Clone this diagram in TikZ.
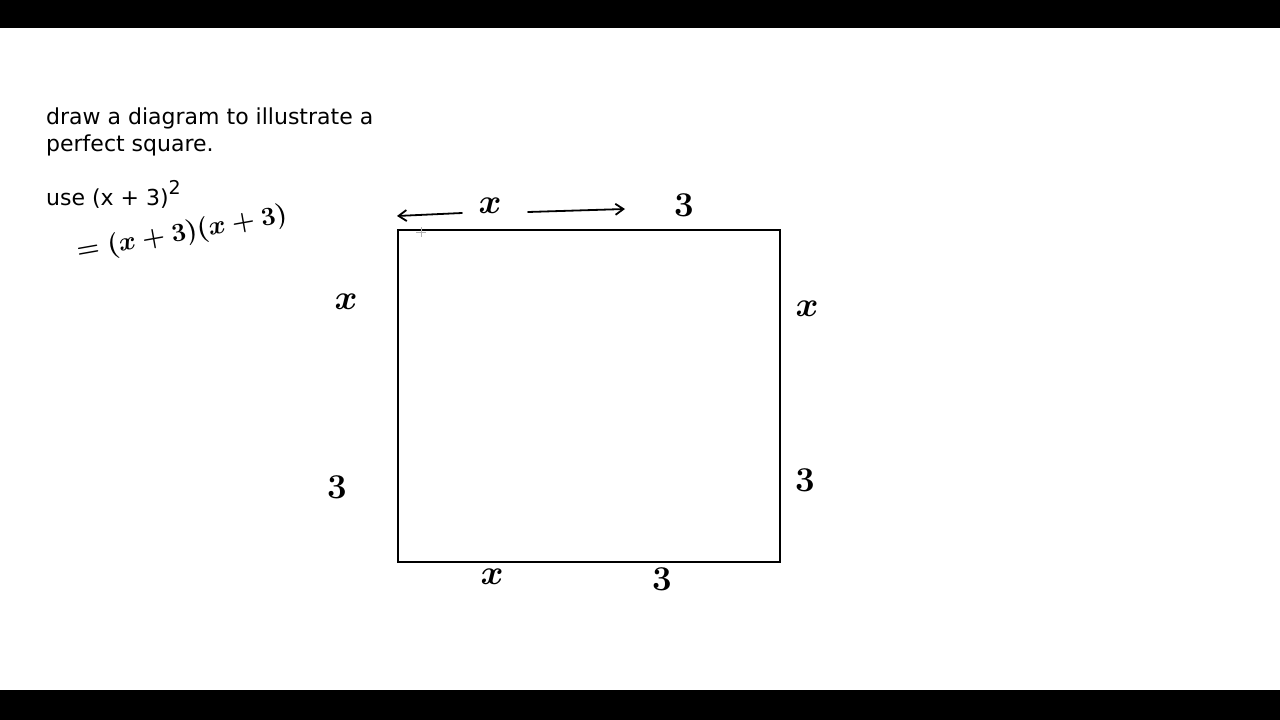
\documentclass[tikz,border=0pt]{standalone}
\usepackage{fontspec}
\setmainfont{DejaVu Sans}
\usetikzlibrary{arrows.meta,calc}
\tikzset{
  typed/.style={anchor=base west, inner sep=0pt, font=\fontsize{22}{26}\selectfont},
  hand/.style={inner sep=0pt, font=\fontsize{24.88}{28}\selectfont\boldmath, transform shape, scale=1.4},
  handline/.style={line width=1.8pt, line cap=round},
}
\begin{document}
\begin{tikzpicture}[x=1pt,y=-1pt]
\useasboundingbox (0,0) rectangle (1280,720);
\fill[white] (0,0) rectangle (1280,720);
\fill[black] (0,0) rectangle (1280,28);
\fill[black] (0,690) rectangle (1280,720);
% typed text
\node[typed] (t1) at (46,124) {draw a diagram to illustrate a};
\node[typed] (t2) at (46,151) {perfect square.};
\node[typed] (t3) at (46,205) {use (x + 3)\raisebox{0.5em}{\fontsize{19}{22}\selectfont 2}};
% handwritten expansion
\node[inner sep=0pt, font=\fontsize{24.88}{28}\selectfont\boldmath, transform shape, scale=1.05, rotate=10] (eq) at (182,234) {$=(x+3)(x+3)$};
% square
\node[draw, line width=1.6pt, minimum width=382pt, minimum height=332pt, inner sep=0pt, anchor=north west] (sq) at (397,229) {};
% top arrows
\coordinate (la) at (462,213);
\coordinate (lb) at (397,216);
\coordinate (ra) at (528,212);
\coordinate (rb) at (625,209);
\draw[handline, -{Straight Barb[length=8pt,width=11pt]}] (la) -- (lb);
\draw[handline, -{Straight Barb[length=8pt,width=11pt]}] (ra) -- (rb);
\node[hand] (tx) at (490,206) {$x$};
\node[hand] (t3h) at (684,205) {$3$};
% side labels
\node[hand] (lx) at (346,302) {$x$};
\node[hand] (rx) at (807,309) {$x$};
\node[hand] (l3) at (337,487) {$3$};
\node[hand] (r3) at (805,480) {$3$};
\node[hand] (bx) at (492,577) {$x$};
\node[hand] (b3) at (662,579) {$3$};
% cursor
\coordinate (cu) at (421,232);
\draw[gray!60, line width=0.8pt] ($(cu)+(-5,0)$) -- ($(cu)+(5,0)$);
\draw[gray!60, line width=0.8pt] ($(cu)+(0,-5)$) -- ($(cu)+(0,5)$);
\end{tikzpicture}
\end{document}
